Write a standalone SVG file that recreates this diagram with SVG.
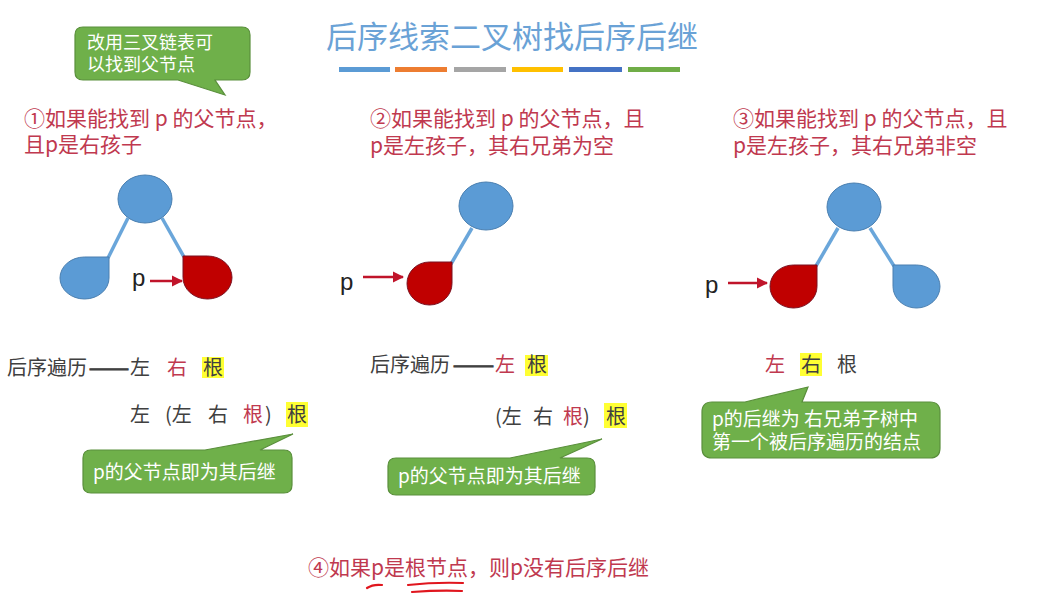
<svg xmlns="http://www.w3.org/2000/svg" width="1038" height="613" viewBox="0 0 1038 613">
<defs>
<style>
.cjk{font-family:"Noto Sans CJK SC","Noto Sans",sans-serif;}
.title{font-size:31px;fill:#6aa2d6;}
.head{font-size:21px;fill:#c0394f;}
.row{font-size:20px;fill:#404040;}
.dash{stroke:#404040;stroke-width:1.2;}
.red{fill:#c0394f;}
.hl{fill:#ffff33;}
.call{fill:#6fb04a;stroke:#5a8f3c;stroke-width:1.2;}
.ctext{font-size:19px;fill:#ffffff;}
.blue{fill:#5b9bd5;stroke:#4a7fb0;stroke-width:1;}
.rednode{fill:#c00000;stroke:#7a1020;stroke-width:1;}
.edge{stroke:#6aa6da;stroke-width:3.5;fill:none;}
.parr{stroke:#c0142a;stroke-width:2.5;fill:none;}
.plabel{font-family:"Liberation Sans",Arial,sans-serif;font-size:24px;fill:#222;}
.hand{stroke:#e0161e;stroke-width:2.2;fill:none;stroke-linecap:round;}
</style>
<marker id="ah" viewBox="0 0 10 10" refX="9" refY="5" markerWidth="4.5" markerHeight="4.5" orient="auto" markerUnits="strokeWidth">
<path d="M0,0 L10,5 L0,10 z" fill="#c0142a"/>
</marker>
</defs>
<rect width="1038" height="613" fill="#ffffff"/>

<g id="title">
<text class="cjk title" x="512" y="48" text-anchor="middle">后序线索二叉树找后序后继</text>
<rect x="339" y="67" width="51" height="5" fill="#5b9bd5"/>
<rect x="395" y="67" width="52" height="5" fill="#ed7d31"/>
<rect x="454" y="67" width="52" height="5" fill="#a5a5a5"/>
<rect x="512" y="67" width="51" height="5" fill="#ffc000"/>
<rect x="569" y="67" width="53" height="5" fill="#4472c4"/>
<rect x="628" y="67" width="52" height="5" fill="#70ad47"/>
</g>

<g id="note-top">
<path class="call" d="M83,27 H242 Q250,27 250,35 V72 Q250,80 242,80 H215 L225,95 L178,80 H83 Q75,80 75,72 V35 Q75,27 83,27 Z"/>
<text class="cjk ctext" x="87" y="49" style="font-size:18px">改用三叉链表可</text>
<text class="cjk ctext" x="87" y="71" style="font-size:18px">以找到父节点</text>
</g>

<g id="case1-heading">
<text class="cjk head" x="24" y="126">①如果能找到 p 的父节点，</text>
<text class="cjk head" x="24" y="152">且p是右孩子</text>
</g>
<g id="case2-heading">
<text class="cjk head" x="370" y="126">②如果能找到 p 的父节点，且</text>
<text class="cjk head" x="370" y="153">p是左孩子，其右兄弟为空</text>
</g>
<g id="case3-heading">
<text class="cjk head" x="733" y="126">③如果能找到 p 的父节点，且</text>
<text class="cjk head" x="733" y="153">p是左孩子，其右兄弟非空</text>
</g>

<g id="connectors">
<line class="edge" x1="128" y1="218" x2="108" y2="258"/>
<line class="edge" x1="162" y1="218" x2="184" y2="257"/>
<line class="edge" x1="472" y1="228" x2="451" y2="264"/>
<line class="edge" x1="838" y1="228" x2="816" y2="266"/>
<line class="edge" x1="870" y1="228" x2="894" y2="266"/>
<line class="parr" x1="150" y1="281" x2="182" y2="281" marker-end="url(#ah)"/>
<line class="parr" x1="363" y1="277" x2="403" y2="277" marker-end="url(#ah)"/>
<line class="parr" x1="728" y1="283" x2="767" y2="283" marker-end="url(#ah)"/>
</g>

<g id="tree1-root"><ellipse class="blue" cx="145" cy="199" rx="27" ry="24"/></g>
<g id="tree1-left"><path class="blue" d="M109,257 V278 A24.5,21 0 0 1 84.5,299 A24.5,21 0 0 1 60,278 A24.5,21 0 0 1 84.5,257 Z"/></g>
<g id="tree1-p"><path class="rednode" d="M183,256 H207.5 A24.5,21.5 0 0 1 232,277.5 A24.5,21.5 0 0 1 207.5,299 A24.5,21.5 0 0 1 183,277.5 Z"/>
<text class="plabel" x="132" y="286">p</text></g>

<g id="tree2-root"><ellipse class="blue" cx="486" cy="206" rx="27" ry="24"/></g>
<g id="tree2-p"><path class="rednode" d="M452,262 V283.5 A22.5,21.5 0 0 1 429.5,305 A22.5,21.5 0 0 1 407,283.5 A22.5,21.5 0 0 1 429.5,262 Z"/>
<text class="plabel" x="340" y="290">p</text></g>

<g id="tree3-root"><ellipse class="blue" cx="854" cy="207" rx="27" ry="24"/></g>
<g id="tree3-p"><path class="rednode" d="M817,265 V286.5 A23.5,21.5 0 0 1 793.5,308 A23.5,21.5 0 0 1 770,286.5 A23.5,21.5 0 0 1 793.5,265 Z"/>
<text class="plabel" x="705" y="293">p</text></g>
<g id="tree3-right"><path class="blue" d="M893,265 H916.5 A23.5,21.5 0 0 1 940,286.5 A23.5,21.5 0 0 1 916.5,308 A23.5,21.5 0 0 1 893,286.5 Z"/></g>

<g id="case1-order">
<text class="cjk row" x="7" y="375">后序遍历</text>
<text class="cjk row dash" x="89" y="375" textLength="40" lengthAdjust="spacingAndGlyphs">——</text>
<text class="cjk row" x="130" y="375">左</text>
<text class="cjk row red" x="167" y="375">右</text>
<rect class="hl" x="202" y="357" width="22" height="21"/>
<text class="cjk row" x="203" y="375">根</text>
<text class="cjk row" x="130" y="422">左</text>
<text class="cjk row" x="165" y="422">(左</text>
<text class="cjk row" x="208" y="422">右</text>
<text class="cjk row red" x="243" y="422">根</text>
<text class="cjk row" x="265" y="422">)</text>
<rect class="hl" x="286" y="402" width="22" height="25"/>
<text class="cjk row" x="287" y="422">根</text>
</g>
<g id="case1-note">
<path class="call" d="M91,450 H205 L293,434 L260,450 H284 Q292,450 292,458 V485 Q292,493 284,493 H91 Q83,493 83,485 V458 Q83,450 91,450 Z"/>
<text class="cjk ctext" x="93" y="479">p的父节点即为其后继</text>
</g>

<g id="case2-order">
<text class="cjk row" x="370" y="372">后序遍历</text>
<text class="cjk row dash" x="453" y="372" textLength="41" lengthAdjust="spacingAndGlyphs">——</text>
<text class="cjk row red" x="495" y="372">左</text>
<rect class="hl" x="525" y="355" width="23" height="21"/>
<text class="cjk row" x="527" y="372">根</text>
<text class="cjk row" x="495" y="424">(左</text>
<text class="cjk row" x="533" y="424">右</text>
<text class="cjk row red" x="563" y="424">根</text>
<text class="cjk row" x="583" y="424">)</text>
<rect class="hl" x="604" y="403" width="23" height="25"/>
<text class="cjk row" x="606" y="424">根</text>
</g>
<g id="case2-note">
<path class="call" d="M396,458 H510 L602,439 L560,458 H587 Q595,458 595,466 V487 Q595,495 587,495 H396 Q388,495 388,487 V466 Q388,458 396,458 Z"/>
<text class="cjk ctext" x="398" y="483">p的父节点即为其后继</text>
</g>

<g id="case3-order">
<text class="cjk row red" x="765" y="372">左</text>
<rect class="hl" x="800" y="353" width="22" height="23"/>
<text class="cjk row" x="801" y="372">右</text>
<text class="cjk row" x="837" y="372">根</text>
</g>
<g id="case3-note">
<path class="call" d="M712,402 H745 L808,387 L802,402 H930 Q940,402 940,412 V448 Q940,458 930,458 H712 Q702,458 702,448 V412 Q702,402 712,402 Z"/>
<text class="cjk ctext" x="712" y="426">p的后继为 右兄弟子树中</text>
<text class="cjk ctext" x="712" y="449">第一个被后序遍历的结点</text>
</g>

<g id="case4">
<text class="cjk head" x="308" y="575">④如果p是根节点，则p没有后序后继</text>
<path class="hand" d="M367,588 Q373,584 382,585"/>
<path class="hand" d="M408,585 Q435,582 463,583"/>
<path class="hand" d="M412,592 Q440,590 462,591"/>
</g>
</svg>
